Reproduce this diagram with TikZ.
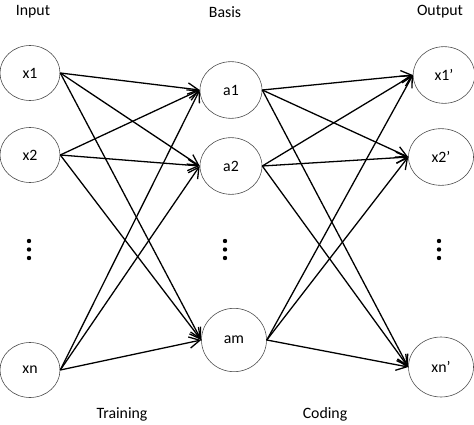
\documentclass[tikz,border=0pt]{standalone}
\usepackage{fontspec}
\setmainfont{Carlito}
\usetikzlibrary{shapes.geometric,arrows.meta}

\begin{document}
\begin{tikzpicture}[x=0.03cm,y=-0.03cm,
    unit/.style={ellipse,draw=black!70,line width=0.5pt,inner sep=0pt,
      minimum width=1.8cm,minimum height=1.65cm,font=\fontsize{13.5}{15}\selectfont},
    link/.style={->,>={Straight Barb[length=3.2mm,width=3.4mm]},line width=1.1pt},
    title/.style={font=\fontsize{13.5}{15}\selectfont}]
    \useasboundingbox (0,0) rectangle (474,425);

    % input layer
    \node[unit] (x1) at (30,73) {x1};
    \node[unit] (x2) at (30,155) {x2};
    \node[unit] (xn) at (30,370) {xn};

    % basis layer
    \node[unit, minimum width=1.86cm, minimum height=1.7cm] (a1) at (231,90) {a1};
    \node[unit, minimum width=1.86cm, minimum height=1.7cm] (a2) at (231,166) {a2};
    \node[unit, minimum width=1.95cm, minimum height=1.9cm] (am) at (234,340) {am};

    % output layer
    \node[unit, minimum width=1.85cm, minimum height=1.7cm] (y1) at (444,75) {x1’};
    \node[unit, minimum width=1.95cm, minimum height=1.7cm] (y2) at (441,157) {x2’};
    \node[unit, minimum width=1.95cm, minimum height=1.8cm] (yn) at (441,367) {xn’};

    \foreach \x in {29,225,439}
      \foreach \y in {241,249.5,258}
        \fill (\x,\y) circle (2.2);

    \foreach \s in {x1,x2,xn}
      \foreach \t in {a1,a2,am}
        \draw[link] (\s.east) -- (\t.west);
    \foreach \s in {a1,a2,am}
      \foreach \t in {y1,y2,yn}
        \draw[link] (\s.east) -- (\t.west);

    \node[title] (input) at (33,12) {Input};
    \node[title] (basis) at (225,12) {Basis};
    \node[title] (output) at (440,12) {Output};
    \node[title] (training) at (122,414) {Training};
    \node[title] (coding) at (325,414) {Coding};
\end{tikzpicture}
\end{document}
